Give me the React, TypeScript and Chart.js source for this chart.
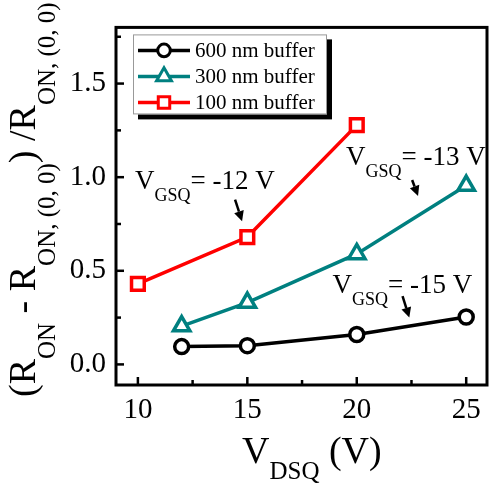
import { useEffect, useRef } from 'react';
import { Chart, registerables } from 'chart.js';
import { drawPoint } from 'chart.js/helpers';
Chart.register(...registerables);

// ---- data ----
const x600 = [12, 15, 20, 25];
const y600 = [0.095, 0.1, 0.16, 0.253];
const x300 = [12, 15, 20, 25];
const y300 = [0.205, 0.33, 0.59, 0.955];
const x100 = [10, 15, 20];
const y100 = [0.43, 0.68, 1.278];
const seriesLabels = ['600 nm buffer', '300 nm buffer', '100 nm buffer'];
const xTicks = [10, 15, 20, 25];
const yTicks = [0, 0.5, 1.0, 1.5];
const xMinorTicks = [12.5, 17.5, 22.5];
const yMinorTicks = [0.25, 0.75, 1.25, 1.75];
const annotationValues = ['= -12 V', '= -13 V', '= -15 V'];

// ---- annotation placement (data coordinates) ----
const annotTextX = [9.87, 19.51, 18.89];
const annotTextY = [0.935, 1.065, 0.382];
const arrowFromX = [14.44, 22.53, 22.09];
const arrowFromY = [0.88, 0.985, 0.365];
const arrowToX = [14.76, 22.8, 22.4];
const arrowToY = [0.765, 0.9, 0.25];

const SERIF = '"Liberation Serif", "Times New Roman", serif';
const COLORS = ['#000000', '#008080', '#ff0000'];
const STYLES = ['circle', 'triangle', 'rect'];
const RADII = [7, 9.5, 9];

type Part = { t: string; sub?: boolean };

function drawRich(ctx: CanvasRenderingContext2D, parts: Part[], x: number, y: number, mainSize: number, subSize: number, subDy: number) {
  let cx = x;
  for (const p of parts) {
    ctx.font = `${p.sub ? subSize : mainSize}px ${SERIF}`;
    ctx.fillText(p.t, cx, y + (p.sub ? subDy : 0));
    cx += ctx.measureText(p.t).width;
  }
}

function drawArrow(ctx: CanvasRenderingContext2D, x1: number, y1: number, x2: number, y2: number) {
  const ang = Math.atan2(y2 - y1, x2 - x1);
  const head = 10;
  const hw = 5;
  const bx = x2 - head * Math.cos(ang);
  const by = y2 - head * Math.sin(ang);
  ctx.beginPath();
  ctx.moveTo(x1, y1);
  ctx.lineTo(bx, by);
  ctx.lineWidth = 2.5;
  ctx.strokeStyle = '#000';
  ctx.stroke();
  ctx.beginPath();
  ctx.moveTo(x2, y2);
  ctx.lineTo(bx + hw * Math.sin(ang), by - hw * Math.cos(ang));
  ctx.lineTo(bx - hw * Math.sin(ang), by + hw * Math.cos(ang));
  ctx.closePath();
  ctx.fillStyle = '#000';
  ctx.fill();
}

const decorPlugin = {
  id: 'decor',
  afterDraw(chart: any) {
    const ctx: CanvasRenderingContext2D = chart.ctx;
    const { left, right, top, bottom } = chart.chartArea;
    const xs = chart.scales.x;
    const ys = chart.scales.y;
    ctx.save();
    // frame
    ctx.strokeStyle = '#000';
    ctx.lineWidth = 3;
    ctx.strokeRect(left, top, right - left, bottom - top);
    // ticks (inward)
    ctx.lineWidth = 2.5;
    const tick = (x1: number, y1: number, x2: number, y2: number) => {
      ctx.beginPath();
      ctx.moveTo(x1, y1);
      ctx.lineTo(x2, y2);
      ctx.stroke();
    };
    yTicks.forEach((v) => { const p = ys.getPixelForValue(v); tick(left, p, left + 8, p); });
    yMinorTicks.forEach((v) => { const p = ys.getPixelForValue(v); tick(left, p, left + 5, p); });
    xTicks.forEach((v) => { const p = xs.getPixelForValue(v); tick(p, bottom, p, bottom - 8); });
    xMinorTicks.forEach((v) => { const p = xs.getPixelForValue(v); tick(p, bottom, p, bottom - 5); });

    // legend
    const lx = left + 17, ly = top + 7, lw = 194, lh = 80;
    ctx.fillStyle = '#000';
    ctx.fillRect(lx + 5, ly + 5, lw, lh);
    ctx.fillStyle = '#fff';
    ctx.fillRect(lx, ly, lw, lh);
    ctx.strokeStyle = '#999';
    ctx.lineWidth = 1;
    ctx.strokeRect(lx + 0.5, ly + 0.5, lw - 1, lh - 1);
    seriesLabels.forEach((lab, i) => {
      const cy = ly + 16 + i * 26;
      ctx.strokeStyle = COLORS[i];
      ctx.lineWidth = 3.5;
      ctx.beginPath();
      ctx.moveTo(lx + 5, cy);
      ctx.lineTo(lx + 57, cy);
      ctx.stroke();
      ctx.fillStyle = '#fff';
      ctx.strokeStyle = COLORS[i];
      ctx.lineWidth = 3;
      drawPoint(ctx, { pointStyle: STYLES[i], radius: RADII[i] * 0.9, rotation: 0, borderWidth: 3 } as any, lx + 31, cy);
      ctx.fillStyle = '#000';
      ctx.font = `21px ${SERIF}`;
      ctx.textBaseline = 'alphabetic';
      ctx.textAlign = 'left';
      ctx.fillText(lab, lx + 62, cy + 7);
    });

    // annotations
    ctx.fillStyle = '#000';
    ctx.textAlign = 'left';
    ctx.textBaseline = 'alphabetic';
    annotationValues.forEach((txt, i) => {
      const tx = xs.getPixelForValue(annotTextX[i]);
      const ty = ys.getPixelForValue(annotTextY[i]);
      ctx.fillStyle = '#000';
      drawRich(ctx, [{ t: 'V' }, { t: 'GSQ', sub: true }, { t: txt }], tx, ty, 27, 18, 12);
      drawArrow(ctx, xs.getPixelForValue(arrowFromX[i]), ys.getPixelForValue(arrowFromY[i]),
        xs.getPixelForValue(arrowToX[i]), ys.getPixelForValue(arrowToY[i]));
    });

    // x title
    ctx.fillStyle = '#000';
    drawRich(ctx, [{ t: 'V' }, { t: 'DSQ', sub: true }, { t: ' (V)' }], 242, 463, 38, 25, 16);

    // y title
    ctx.save();
    ctx.translate(35, 397);
    ctx.rotate(-Math.PI / 2);
    drawRich(ctx, [
      { t: '(R' }, { t: 'ON', sub: true }, { t: ' - R' }, { t: 'ON, (0, 0)', sub: true },
      { t: ') /R' }, { t: 'ON, (0, 0)', sub: true },
    ], 0, 0, 38, 25, 20);
    ctx.restore();

    ctx.restore();
  },
};

export default function App() {
  const ref = useRef<HTMLCanvasElement>(null);
  useEffect(() => {
    document.body.style.margin = '0';
    const mk = (xs: number[], ys: number[]) => xs.map((x, i) => ({ x, y: ys[i] }));
    const sets = [mk(x600, y600), mk(x300, y300), mk(x100, y100)];
    const chart = new Chart(ref.current!, {
      type: 'line',
      data: {
        datasets: sets.map((d, i) => ({
          label: seriesLabels[i],
          data: d,
          borderColor: COLORS[i],
          backgroundColor: '#fff',
          borderWidth: 3.5,
          pointStyle: STYLES[i] as any,
          pointRadius: RADII[i],
          pointBorderWidth: 3.5,
          pointBackgroundColor: '#fff',
          pointBorderColor: COLORS[i],
          fill: false,
          tension: 0,
        })),
      },
      options: {
        responsive: false,
        animation: false,
        devicePixelRatio: 1,
        events: [],
        layout: { padding: { top: 3, right: 3, left: 0, bottom: 0 } },
        plugins: { legend: { display: false }, tooltip: { enabled: false } },
        scales: {
          x: {
            type: 'linear',
            min: 9,
            max: 25.95,
            afterBuildTicks: (s: any) => { s.ticks = xTicks.map((v) => ({ value: v })); },
            afterFit: (s: any) => { s.height = 98; },
            grid: { display: false, drawTicks: false },
            border: { display: false },
            ticks: {
              autoSkip: false, maxRotation: 0, padding: 8, color: '#000',
              font: { family: SERIF, size: 29 },
              callback: (v: any) => String(v),
            },
          },
          y: {
            type: 'linear',
            min: -0.11,
            max: 1.8,
            afterBuildTicks: (s: any) => { s.ticks = yTicks.map((v) => ({ value: v })); },
            afterFit: (s: any) => { s.width = 116; },
            grid: { display: false, drawTicks: false },
            border: { display: false },
            ticks: {
              autoSkip: false, padding: 10, color: '#000',
              font: { family: SERIF, size: 29 },
              callback: (v: any) => Number(v).toFixed(1),
            },
          },
        },
      },
      plugins: [decorPlugin],
    } as any);
    return () => chart.destroy();
  }, []);
  return (
    <div style={{ width: 500, height: 483, position: 'relative' }}>
      <canvas ref={ref} width={500} height={483} style={{ display: 'block' }} />
    </div>
  );
}
